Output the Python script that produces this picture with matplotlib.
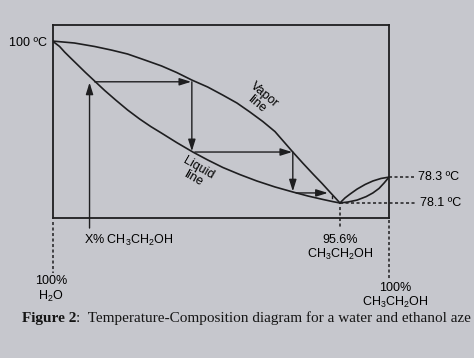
import matplotlib
matplotlib.use("Agg")
import matplotlib.pyplot as plt

plt.rcParams['font.family'] = ['Liberation Sans', 'DejaVu Sans']
plt.rcParams['mathtext.fontset'] = 'custom'
plt.rcParams['mathtext.rm'] = 'Liberation Sans'
plt.rcParams['mathtext.it'] = 'Liberation Sans:italic'
plt.rcParams['mathtext.bf'] = 'Liberation Sans:bold'

# schematic diagram units: x = composition across the box (0 = water, 100 = ethanol),
# y = height in the box (0 = bottom, 100 = top)
vapor_x = [0, 6.5, 12.5, 17.6, 22.3, 27.4, 32.4, 36.9, 41.4, 46.1, 50.6, 54.8,
           58.6, 62.5, 66.1, 69.0, 71.4, 74.4, 77.4, 80.1, 82.4, 84.2, 85.4]
vapor_y = [91.7, 90.7, 88.9, 87.0, 85.0, 81.9, 78.8, 75.4, 71.5, 67.9, 63.7, 59.6,
           55.0, 50.0, 44.8, 39.0, 34.2, 28.4, 22.8, 17.9, 13.5, 10.1, 7.8]
liquid_x = [0, 2.1, 3.6, 5.4, 7.4, 9.8, 12.5, 15.5, 18.8, 22.3, 25.9, 29.2, 32.4,
            36.9, 41.7, 46.1, 50.6, 55.7, 60.7, 66.1, 71.4, 75.9, 80.4, 83.3, 85.4]
liquid_y = [91.7, 88.9, 86.0, 82.9, 79.5, 75.4, 71.0, 66.1, 61.1, 56.0, 51.3, 47.4, 44.0,
            39.1, 34.2, 30.1, 26.2, 22.5, 19.2, 16.1, 13.5, 11.4, 9.6, 8.5, 7.8]

# lens between azeotrope and pure ethanol
lens_top_x = [85.4, 86.9, 88.4, 90.5, 92.9, 95.2, 97.6, 100]
lens_top_y = [7.8, 10.4, 12.4, 15.0, 17.4, 19.2, 20.5, 21.2]
lens_bot_x = [85.4, 87.8, 90.5, 93.2, 95.2, 97.0, 98.5, 100]
lens_bot_y = [7.8, 8.3, 9.3, 11.1, 13.0, 15.3, 18.1, 21.2]

# distillation staircase (start -> end of each arrow)
step_x0 = [11.0, 12.5, 41.4, 42.3, 71.4, 72.4]
step_y0 = [-5.2, 70.6, 70.6, 34.2, 34.2, 13.0]
step_x1 = [11.0, 41.2, 41.4, 71.2, 71.4, 81.8]
step_y1 = [70.2, 70.6, 34.6, 34.2, 13.8, 13.0]

azeo_x, azeo_y = 85.4, 7.8
pure_y = 21.2
water_y = 91.7

ink = '#1e1e20'
paper = '#c6c7cd'

fig = plt.figure(figsize=(4.74, 3.58), dpi=100, facecolor=paper)
ax = fig.add_axes([0.1108, 0.391, 0.710, 0.539])
ax.set_facecolor(paper)
ax.set_xlim(0, 100)
ax.set_ylim(0, 100)
ax.set_xticks([])
ax.set_yticks([])
for s in ax.spines.values():
    s.set_color(ink)
    s.set_linewidth(1.3)

ax.plot(vapor_x, vapor_y, color=ink, lw=1.2)
ax.plot(liquid_x, liquid_y, color=ink, lw=1.2)
ax.plot(lens_top_x, lens_top_y, color=ink, lw=1.2)
ax.plot(lens_bot_x, lens_bot_y, color=ink, lw=1.2)

for x0, y0, x1, y1 in zip(step_x0, step_y0, step_x1, step_y1):
    ax.annotate("", xy=(x1, y1), xytext=(x0, y0), annotation_clip=False,
                arrowprops=dict(arrowstyle='-|>,head_length=0.7,head_width=0.22',
                                color=ink, lw=1.0, shrinkA=0, shrinkB=0))
# little tick at end of the last step
ax.plot([83.0, 83.0], [11.4, 10.2], color=ink, lw=1.0)

dash = dict(color=ink, lw=1.1, ls=(0, (2, 1.6)), clip_on=False)
ax.plot([100, 107.4], [pure_y, pure_y], **dash)
ax.plot([azeo_x, 107.7], [azeo_y, azeo_y], **dash)
ax.plot([0, 0], [-2.1, -28.5], **dash)
ax.plot([azeo_x, azeo_x], [5.7, -5.2], **dash)
ax.plot([100, 100], [-1.0, -32.1], **dash)

fs = 9
ax.text(-1.5, water_y - 1.0, "100 ºC", ha='right', va='center', fontsize=fs)
ax.text(108.6, pure_y, "78.3 ºC", ha='left', va='center', fontsize=fs)
ax.text(109.2, azeo_y, "78.1 ºC", ha='left', va='center', fontsize=fs)
ax.text(9.3, -11.4, "X% CH$_3$CH$_2$OH", ha='left', va='center', fontsize=fs)
ax.text(-0.5, -37.0, "100%\nH$_2$O", ha='center', va='center', fontsize=fs,
        multialignment='center', linespacing=1.1)
ax.text(azeo_x, -15.5, "95.6%\nCH$_3$CH$_2$OH", ha='center', va='center',
        fontsize=fs, multialignment='center', linespacing=1.1)
ax.text(101.8, -40.3, "100%\nCH$_3$CH$_2$OH", ha='center', va='center',
        fontsize=fs, multialignment='center', linespacing=1.1)
ax.text(61.8, 61.6, "Vapor\nline", ha='center', va='center', fontsize=fs,
        rotation=-40, rotation_mode='anchor', multialignment='center', linespacing=1.0)
ax.text(42.6, 23.3, "Liquid\nline", ha='center', va='center', fontsize=fs,
        rotation=-30, rotation_mode='anchor', multialignment='center', linespacing=1.0)

cap_fs = 11.0
cap1 = fig.text(22 / 474, 0.1006, "Figure 2", fontweight='bold',
                family='Liberation Serif', fontsize=cap_fs, va='baseline', color='#151515')
fig.canvas.draw()
bb = cap1.get_window_extent(fig.canvas.get_renderer())
fig.text(bb.x1 / fig.bbox.width, 0.1006,
         ":  Temperature-Composition diagram for a water and ethanol aze",
         family='Liberation Serif', fontsize=cap_fs, va='baseline', color='#151515')

fig.savefig("out.png", dpi=100, facecolor=paper)
